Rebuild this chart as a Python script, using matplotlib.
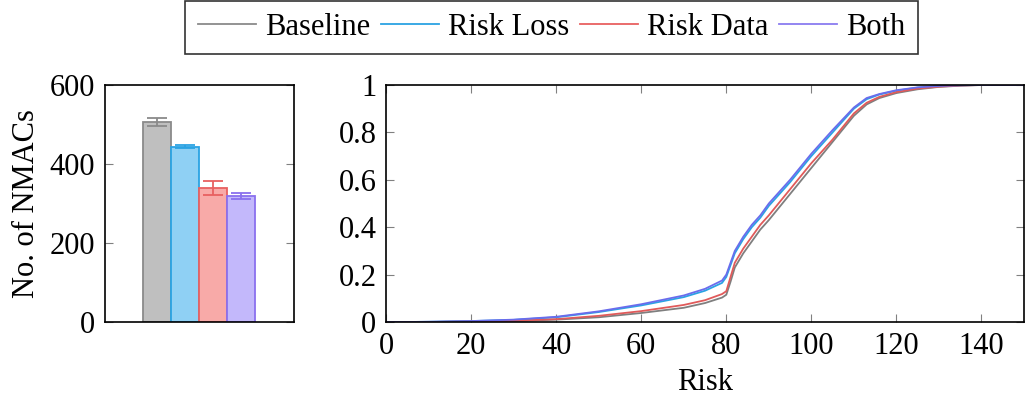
import matplotlib
matplotlib.use("Agg")
import matplotlib.pyplot as plt
from matplotlib.ticker import FuncFormatter
from matplotlib.lines import Line2D

plt.rcParams['font.family'] = ['Liberation Serif', 'DejaVu Serif']
plt.rcParams['mathtext.fontset'] = 'stix'

methods = ["Baseline", "Risk Loss", "Risk Data", "Both"]
nmacs = [506, 444, 339, 319]
nmacs_err = [10, 4, 17, 7]

risk = [0, 5, 10, 20, 30, 40, 50, 60, 70, 75, 79, 80, 81, 82, 84, 86, 88, 90,
        95, 100, 105, 110, 113, 116, 120, 125, 130, 135, 140, 150]
cdf_baseline = [0, 0, 0, 0.002, 0.004, 0.010, 0.020, 0.038, 0.060, 0.080, 0.103, 0.115,
                0.170, 0.230, 0.290, 0.340, 0.390, 0.430, 0.540, 0.650, 0.760, 0.870,
                0.918, 0.945, 0.966, 0.982, 0.992, 0.997, 1, 1]
cdf_riskloss = [0, 0, 0.001, 0.004, 0.009, 0.020, 0.042, 0.070, 0.105, 0.132, 0.165, 0.190,
                0.240, 0.290, 0.350, 0.400, 0.440, 0.490, 0.590, 0.700, 0.800, 0.900,
                0.940, 0.960, 0.976, 0.989, 0.995, 0.999, 1, 1]
cdf_riskdata = [0, 0, 0, 0.002, 0.005, 0.012, 0.026, 0.046, 0.072, 0.092, 0.118, 0.130,
                0.190, 0.250, 0.310, 0.360, 0.410, 0.450, 0.560, 0.670, 0.770, 0.880,
                0.925, 0.950, 0.970, 0.985, 0.993, 0.998, 1, 1]
cdf_both = [0, 0, 0.001, 0.004, 0.010, 0.022, 0.045, 0.075, 0.112, 0.140, 0.175, 0.200,
            0.250, 0.300, 0.360, 0.410, 0.450, 0.500, 0.600, 0.710, 0.810, 0.905,
            0.945, 0.962, 0.978, 0.990, 0.996, 0.999, 1, 1]
cdfs = [cdf_baseline, cdf_riskloss, cdf_riskdata, cdf_both]

line_colors = ["#7f7f7f", "#2ba3e3", "#e05a5a", "#6a6cec"]
edge_colors = ["#8a8a8a", "#2ba3e3", "#e86060", "#8a70ee"]
fill_colors = ["#bfbfbf", "#8fd0f4", "#f8aaa8", "#c3b8fb"]
legend_colors = ["#8a8a8a", "#2ba3e3", "#e86060", "#8a7cf0"]

FS = 22
fig = plt.figure(figsize=(10.27, 4.01), dpi=100)

ax1 = fig.add_axes([0.102, 0.197, 0.184, 0.591])
xs = list(range(len(methods)))
for i in xs:
    ax1.bar(i, nmacs[i], width=1.0, color=fill_colors[i], edgecolor=edge_colors[i],
            linewidth=1.3, zorder=2)
    ax1.errorbar(i, nmacs[i], yerr=nmacs_err[i], color=edge_colors[i], capsize=7,
                 elinewidth=1.3, capthick=1.3, zorder=3)
ax1.set_xlim(1.5 - 3.375, 1.5 + 3.375)
ax1.set_ylim(0, 600)
ax1.set_yticks([0, 200, 400, 600])
ax1.set_xticks([])
ax1.tick_params(axis='y', direction='in', right=True, length=6, color='#808080',
                labelsize=FS, pad=7)
ax1.set_ylabel("No. of NMACs", fontsize=FS, labelpad=6)

ax2 = fig.add_axes([0.376, 0.197, 0.621, 0.591])
for c, col, lab in zip(cdfs, line_colors, methods):
    ax2.plot(risk, c, color=col, linewidth=1.3, label=lab)
ax2.set_xlim(0, 150)
ax2.set_ylim(0, 1)
ax2.set_xticks([0, 20, 40, 60, 80, 100, 120, 140])
ax2.set_yticks([0, 0.2, 0.4, 0.6, 0.8, 1])
ax2.yaxis.set_major_formatter(FuncFormatter(lambda v, p: "%g" % v))
ax2.tick_params(direction='in', top=True, right=True, length=6, color='#808080',
                labelsize=FS, pad=7)
ax2.set_xlabel("Risk", fontsize=FS, labelpad=5)

for ax in (ax1, ax2):
    for s in ax.spines.values():
        s.set_linewidth(1.2)

handles = [Line2D([0], [0], color=c, linewidth=1.3) for c in legend_colors]
leg = fig.legend(handles, methods, loc='center', bbox_to_anchor=(0.537, 0.932), ncol=4,
                 fontsize=FS, frameon=True, fancybox=False, edgecolor='black',
                 handlelength=1.9, handletextpad=0.3, columnspacing=0.35,
                 borderpad=0.4)
leg.get_frame().set_linewidth(1.2)

fig.savefig("out.png", dpi=100)
